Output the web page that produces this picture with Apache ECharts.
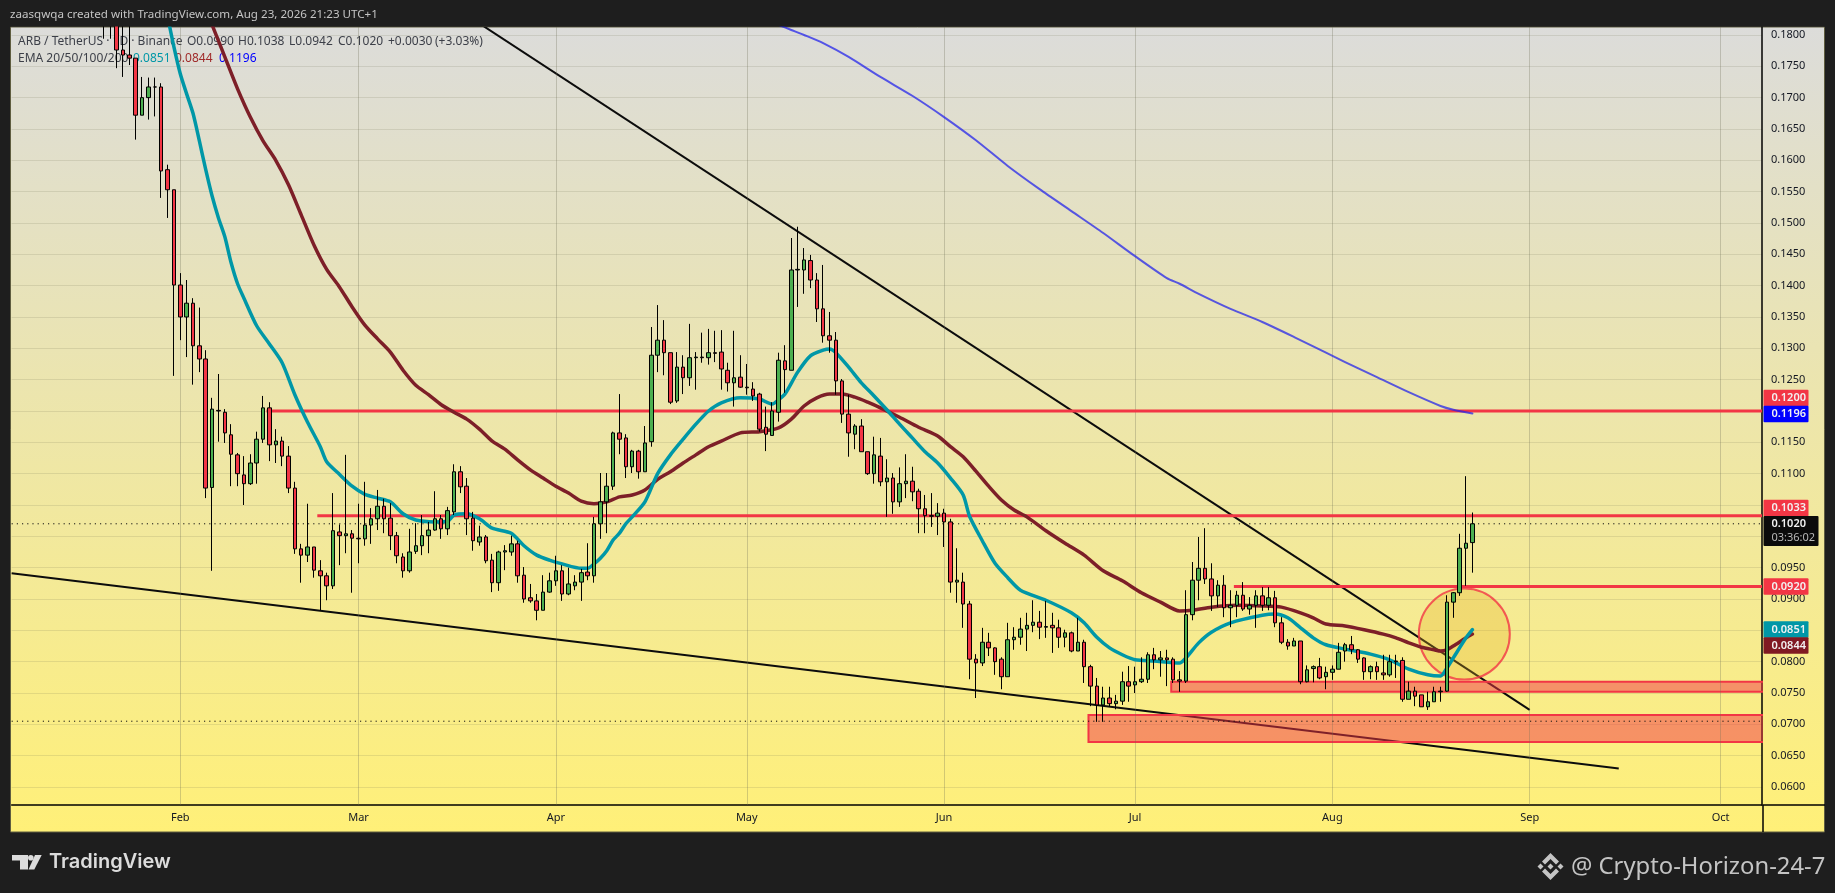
<!DOCTYPE html>
<html><head><meta charset="utf-8">
<style>html,body{margin:0;padding:0;background:#1e1e1e}#c{width:1835px;height:893px}</style>
<script src="https://cdn.jsdelivr.net/npm/echarts@6/dist/echarts.min.js"></script>
</head><body><div id="c"></div>
<script>
// Day numbers are offsets from 1 Feb 2026.
const firstDay = -26, lastDay = 248, firstCandleDay = -12;
const monthStarts = [[0,'Feb'],[28,'Mar'],[59,'Apr'],[89,'May'],[120,'Jun'],[150,'Jul'],[181,'Aug'],[212,'Sep'],[242,'Oct']];
const priceTicks = [.06,.065,.07,.075,.08,.085,.09,.095,.1,.105,.11,.115,.12,.125,.13,.135,.14,.145,.15,.155,.16,.165,.17,.175,.18];
// [open, close, low, high]
const candles = [
[.195,.19,.1794,.198],[.19,.187,.1794,.195],[.185,.1776,.1747,.19],[.1776,.1768,.1733,.182],[.1768,.1763,.1752,.182],
[.1763,.1672,.1633,.1763],[.1672,.17,.1672,.1733],[.17,.1717,.1665,.1732],[.1717,.1717,.167,.1732],[.1717,.1583,.154,.1723],
[.1585,.1553,.1508,.1593],[.1553,.1401,.1256,.1553],[.1401,.135,.1313,.142],[.135,.1372,.1286,.1409],[.1372,.1304,.1242,.138],
[.1304,.1283,.1262,.1365],[.1283,.1077,.1061,.1297],[.1078,.1203,.0945,.1221],[.1201,.12,.1151,.1259],[.1198,.1165,.1149,.1203],
[.1162,.1131,.108,.1179],[.113,.11,.108,.1133],[.1098,.1084,.105,.1128],[.1084,.1117,.1082,.1131],[.1117,.1155,.1084,.1167],
[.1155,.1205,.1149,.1224],[.1205,.1146,.112,.1214],[.1146,.1152,.1117,.1171],[.1152,.1128,.1112,.1159],[.1128,.1077,.1069,.1144],
[.1077,.098,.0972,.1087],[.098,.097,.0926,.0988],[.097,.0983,.0959,.1052],[.0983,.0946,.0934,.0983],[.0945,.0937,.0882,.0962],
[.0937,.0921,.0898,.0942],[.0921,.1009,.0916,.1069],[.1007,.1001,.0954,.1019],[.1001,.1004,.0973,.113],[.1004,.0997,.091,.101],
[.0997,.0996,.0957,.1052],[.0996,.1018,.0985,.1087],[.1018,.1028,.0988,.1045],[.1028,.1048,.101,.1074],[.1048,.1028,.1005,.106],
[.1029,.1001,.0978,.1053],[.1001,.0969,.0957,.1007],[.0967,.0945,.0934,.0973],[.0945,.0975,.0942,.1012],[.0976,.0985,.0972,.1021],
[.0985,.1001,.097,.1034],[.1001,.101,.0973,.1023],[.101,.1028,.1009,.1072],[.1028,.1012,.0996,.1034],[.1012,.1041,.1002,.1047],
[.1039,.1103,.1034,.1115],[.1103,.1079,.1069,.1112],[.108,.1028,.1002,.1093],[.1029,.0993,.0977,.1039],[.0991,.0999,.0985,.1017],
[.0999,.0961,.0957,.1002],[.0962,.0926,.0911,.0972],[.0926,.0975,.0913,.0977],[.0975,.0977,.0946,.0986],[.0975,.0988,.0969,.1001],
[.0988,.0937,.0926,.0993],[.0938,.09,.0894,.0951],[.0902,.0897,.0894,.0924],[.0897,.0882,.0866,.0908],[.0882,.0911,.0882,.0938],
[.0911,.0929,.091,.0942],[.0929,.0945,.0921,.0969],[.0945,.0908,.0897,.0954],[.0908,.0924,.0906,.095],[.0921,.0927,.0914,.0938],
[.0927,.0942,.0897,.0948],[.0943,.0937,.093,.0989],[.0937,.102,.0926,.1031],[.102,.1055,.0996,.1101],[.1055,.108,.1005,.1101],
[.108,.1165,.1074,.1167],[.1165,.1155,.1131,.1227],[.1157,.1111,.1093,.1163],[.1111,.1136,.1101,.1138],[.1136,.1103,.1092,.1138],
[.1103,.1149,.1103,.1176],[.1151,.1289,.1143,.1334],[.1289,.1313,.1262,.1369],[.1313,.1293,.1257,.1345],[.1293,.1214,.1211,.1293],
[.1216,.127,.1213,.1294],[.127,.1253,.1227,.1289],[.1253,.1285,.124,.1339],[.1285,.1286,.1234,.1294],[.1286,.1285,.1277,.1325],
[.1285,.1293,.1274,.1331],[.1293,.1292,.1278,.1328],[.1294,.1267,.1234,.1329],[.1265,.1245,.1231,.1277],[.1245,.1253,.1207,.1328],
[.1254,.1238,.1237,.1289],[.1238,.1237,.1226,.1275],[.1235,.1224,.1216,.1246],[.1227,.1171,.1167,.1229],[.1174,.1163,.1136,.1207],
[.1161,.12,.1161,.1214],[.1198,.1281,.1183,.1293],[.128,.1266,.1229,.1305],[.1265,.1425,.1265,.1476],[.1425,.1426,.1366,.1494],
[.1425,.1441,.1387,.146],[.144,.1409,.1396,.1449],[.1409,.1363,.1342,.142],[.1363,.132,.1309,.1433],[.132,.1313,.1293,.1358],
[.1313,.1248,.1226,.1326],[.1248,.1195,.1181,.1251],[.1195,.1165,.1127,.1226],[.1163,.1176,.1139,.1179],[.1176,.1135,.1135,.1187],
[.1135,.11,.1098,.1135],[.11,.113,.1084,.1159],[.1128,.1087,.108,.1157],[.1087,.1093,.1031,.1123],[.1093,.1055,.1036,.1101],
[.1055,.1084,.1047,.111],[.1084,.1088,.1061,.1131],[.1088,.1071,.1056,.1111],[.1072,.1044,.1005,.1076],[.1044,.1033,.1005,.1066],
[.1033,.1032,.1015,.1069],[.1032,.1037,.1002,.1053],[.1037,.1023,.0983,.1044],[.1023,.0927,.091,.1028],[.0927,.093,.0894,.0981],
[.0927,.0892,.0854,.0942],[.0892,.0804,.0772,.0897],[.0804,.0798,.0742,.0812],[.0798,.0831,.0793,.0854],[.0831,.0822,.0809,.0846],
[.0822,.08,.0779,.0823],[.0804,.0776,.0756,.0807],[.0776,.0835,.0776,.0862],[.0835,.0839,.0819,.0855],[.0839,.0852,.0827,.087],
[.0852,.0858,.0817,.0878],[.0858,.0863,.0847,.0898],[.0863,.0855,.0836,.0881],[.0855,.0856,.0838,.0897],[.0858,.0854,.0814,.0878],
[.0854,.0839,.0822,.0867],[.0839,.0846,.0823,.0851],[.0846,.0817,.0815,.0848],[.0817,.0831,.0817,.087],[.0831,.0792,.0766,.0835],
[.0792,.0761,.0729,.0795],[.0761,.0731,.0704,.0774],[.0731,.0742,.0704,.076],[.0742,.0733,.0728,.076],[.0733,.0737,.0724,.0747],
[.0737,.0768,.0731,.0784],[.0768,.0761,.0736,.0793],[.0763,.0768,.075,.0792],[.0768,.0772,.0766,.0807],[.0772,.0811,.0766,.0815],
[.0811,.0803,.0788,.0822],[.0803,.0806,.0776,.0817],[.0806,.0803,.0761,.0819],[.0804,.0771,.0766,.0807],[.0771,.0769,.0752,.0785],
[.0769,.0875,.0766,.0914],[.0875,.093,.0866,.0959],[.093,.0949,.0898,.0999],[.0949,.0932,.0924,.1013],[.0932,.0905,.0881,.0957],
[.0905,.0922,.0887,.093],[.0922,.0886,.0871,.0938],[.0886,.089,.0855,.0914],[.089,.0906,.0871,.0913],[.0906,.0884,.0881,.0927],
[.0884,.089,.0875,.0903],[.089,.0905,.0854,.0914],[.0905,.089,.0881,.0919],[.089,.0902,.0882,.0919],[.0902,.0862,.0855,.0913],
[.0862,.0831,.0828,.0871],[.0831,.0825,.0819,.0836],[.0825,.0833,.0825,.0838],[.0833,.0768,.0764,.0833],[.0768,.0787,.0767,.0794],
[.0789,.0792,.0767,.0794],[.0792,.0774,.0772,.0806],[.0776,.0783,.0756,.0792],[.0783,.0788,.0771,.0794],[.0788,.0815,.0788,.083],
[.0817,.0827,.08,.083],[.0827,.0819,.0812,.0841],[.0819,.0804,.0798,.082],[.0806,.0784,.0771,.0807],[.0784,.0792,.0772,.0794],
[.0792,.0784,.0771,.08],[.0782,.0779,.0771,.0811],[.0779,.08,.0776,.0811],[.08,.0801,.0774,.0811],[.0802,.074,.0736,.0807],
[.074,.0753,.074,.0768],[.0753,.0745,.0729,.076],[.0747,.0728,.0728,.0747],[.0728,.0736,.0723,.0752],[.0736,.0752,.0736,.076],
[.0752,.0753,.0736,.076],[.0753,.0895,.0752,.0906],[.0895,.091,.087,.0911],[.091,.0981,.0905,.1004],[.0981,.0989,.0921,.1096],
[.099,.102,.0942,.1038]];
// EMA readings: [day, price]
const ema20 = [[-2,.183],[-1,.1781],[0,.1738],[1,.1706],[2,.1675],[3,.1631],[4,.1585],[5,.1543],[6,.1508],[7,.1478],[8,.1436],[9,.1403],[10,.138],[12,.1336],[14,.1307],[16,.1277],[18,.1226],[20,.1182],[22,.1143],[23,.1119],[25,.1099],[27,.108],[29,.1067],[31,.1061],[33,.1055],[35,.1036],[37,.1026],[40,.1023],[42,.1024],[43,.1034],[45,.1036],[47,.1028],[49,.1013],[52,.1005],[54,.0985],[56,.097],[58,.0962],[60,.0956],[63,.0949],[64,.0949],[65,.0956],[66,.0965],[67,.0977],[68,.0994],[69,.1005],[70,.102],[71,.1031],[73,.1055],[75,.11],[77,.113],[79,.1155],[81,.1179],[83,.12],[85,.1213],[88,.1221],[91,.1219],[93,.1211],[94,.1218],[95,.1227],[97,.1262],[99,.1288],[101,.1297],[102,.1299],[103,.1293],[105,.127],[107,.1245],[109,.1224],[111,.1202],[113,.1179],[115,.1157],[117,.1135],[119,.1117],[121,.1093],[123,.1066],[124,.1032],[126,.0993],[128,.0957],[130,.0934],[132,.0914],[136,.0898],[140,.0878],[142,.0862],[144,.0839],[146,.0822],[148,.0811],[150,.0803],[153,.0801],[157,.0798],[158,.0806],[160,.083],[162,.0847],[165,.0862],[170,.0874],[172,.0876],[174,.087],[176,.0854],[178,.0838],[180,.0827],[183,.082],[187,.0812],[190,.0803],[193,.0788],[196,.0779],[198,.0777],[199,.079],[200,.0806],[202,.0838],[203,.0851]];
const ema50 = [[5,.1816],[7,.1765],[9,.1714],[11,.1669],[13,.1631],[15,.16],[17,.1561],[19,.1513],[21,.1465],[23,.1426],[25,.1398],[27,.1366],[29,.1337],[31,.1315],[33,.1294],[35,.1265],[37,.1241],[39,.1226],[41,.121],[43,.1198],[45,.1187],[47,.1171],[49,.1152],[51,.1139],[53,.1122],[55,.1106],[57,.1093],[59,.108],[61,.1069],[63,.1056],[65,.1052],[67,.1055],[69,.1063],[71,.1066],[73,.1074],[75,.1091],[77,.1103],[79,.1117],[81,.113],[83,.1143],[85,.1152],[88,.1165],[91,.1167],[94,.1173],[96,.1187],[98,.1208],[100,.1221],[102,.1227],[104,.1227],[106,.1222],[108,.1214],[110,.1205],[113,.119],[116,.1174],[119,.116],[121,.1143],[123,.1127],[125,.1104],[127,.108],[129,.1058],[131,.1042],[133,.1031],[136,.1009],[139,.0989],[142,.097],[145,.0945],[148,.0929],[151,.091],[154,.0895],[157,.0881],[159,.0882],[162,.0887],[166,.089],[170,.0889],[173,.0887],[176,.0878],[178,.087],[180,.086],[183,.0857],[186,.0851],[189,.0844],[191,.0838],[193,.083],[195,.0823],[197,.0819],[198,.0817],[199,.0819],[200,.0825],[202,.0838],[203,.0844]];
const ema200 = [[94,.1816],[96,.1808],[98,.18],[101,.1787],[105,.1765],[110,.1733],[115,.1703],[120,.1669],[125,.1632],[130,.1591],[135,.1554],[140,.1519],[145,.1484],[150,.1447],[155,.1412],[157,.1403],[160,.1387],[165,.1363],[170,.1342],[175,.1318],[180,.1293],[183,.1278],[188,.1254],[193,.123],[198,.1208],[200,.1202],[203,.1196]];
// Drawings
const trendLines = [[46,.1825,212,.0723],[-26,.09405,226,.06295]];
const levelLines = [[14,.12],[22,.1033],[166,.092]];
const dottedLevels = [.102,.0705];
const zones = [[156,.0768,.0752],[143,.0715,.0672]];
const circleCentre = [202,.0844];
// Price tags: anchor price, text, sub text, colour
const tagAnchors = [.12207,.11952,.10452,.10085,.092,.08513,.08258];
const tagTexts = ['0.1200','0.1196','0.1033','0.1020','0.0920','0.0851','0.0844'];
const tagSubs = ['','','','03:36:02','','',''];
const tagColors = ['#f23645','#0000ff','#f23645','#0b0b0b','#f23645','#0097a7','#801922'];

const FONT = '"Noto Sans"';
const dayIdx = d => d - firstDay;
const dates = [];
for (let d = firstDay; d <= lastDay; d++) dates.push(new Date(Date.UTC(2026,1,1+d)).toISOString().slice(0,10));
const labelByIdx = {};
monthStarts.forEach(([d,n]) => labelByIdx[dayIdx(d)] = n);
const candleData = dates.map((_,i) => candles[i - dayIdx(firstCandleDay)] || '-');
const toLine = arr => arr.map(([d,v]) => [dayIdx(d), v]);

function txt(x,y,text,fill,font,z){
  return {type:'text', z:z||1, silent:true, style:{x,y,text,fill,font,textVerticalAlign:'middle'}};
}
function poly(points,z){ return {type:'polygon', z:z||1, silent:true, shape:{points}, style:{fill:'#c4c4c4'}}; }
function lineSeries(data, color, width, z){
  return {type:'line', data:toLine(data), showSymbol:false, smooth:0.25, z, silent:true, clip:true,
    lineStyle:{color, width, cap:'round', join:'round'}};
}
function hSeries(rows, style, z){
  return {type:'custom', z, silent:true, clip:true, data:rows,
    renderItem(p, api){
      const cs=p.coordSys, s=api.value(0), v=api.value(1), pt=api.coord([s,v]);
      const x1 = s===0 ? cs.x : pt[0]-3;
      return {type:'line', shape:{x1, y1:pt[1], x2:cs.x+cs.width, y2:pt[1]}, style};
    }};
}
const option = {
  animation:false,
  backgroundColor:'#1e1e1e',
  grid:{left:11.6, right:73, top:27, height:778, containLabel:false},
  xAxis:{type:'category', data:dates, boundaryGap:true,
    axisLine:{show:true, lineStyle:{color:'#000', width:1.5}},
    axisTick:{show:false}, splitLine:{show:false},
    axisLabel:{interval:(i)=>labelByIdx[i]!==undefined, formatter:(v,i)=>labelByIdx[i]||'', margin:7,
      color:'#131722', fontFamily:FONT, fontSize:11, hideOverlap:false}},
  yAxis:{type:'value', position:'right', min:.05713, max:.18127, scale:true,
    axisLine:{show:true, onZero:false, lineStyle:{color:'#000', width:1.5}},
    axisTick:{show:false, customValues:priceTicks},
    splitLine:{show:true, lineStyle:{color:'rgba(110,110,85,0.17)', width:1}},
    axisLabel:{customValues:priceTicks, formatter:v=>v.toFixed(4), margin:9, color:'#131722', fontFamily:FONT, fontSize:11}},
  graphic:{elements:[
    {type:'rect', z:-10, silent:true, shape:{x:10.5,y:27,width:1814,height:805},
      style:{fill:{type:'linear',x:0,y:0,x2:0,y2:1,colorStops:[{offset:0,color:'#dcdcda'},{offset:1,color:'#fff078'}]}, stroke:'#5f5d40', lineWidth:1}},
    {type:'line', z:1, silent:true, shape:{x1:1763,y1:805,x2:1825,y2:805}, style:{stroke:'#000',lineWidth:1.5}},
    {type:'line', z:1, silent:true, shape:{x1:1763,y1:805,x2:1763,y2:832}, style:{stroke:'#000',lineWidth:1.5}},
    {type:'rect', z:50, silent:true, shape:{x:0,y:0,width:1835,height:26.5}, style:{fill:'#1e1e1e'}},
    txt(10,15,'zaasqwqa created with TradingView.com, Aug 23, 2026 21:23 UTC+1','#c4c4c4','11.6px '+FONT,51),
    txt(18,42,'ARB / TetherUS · 1D · Binance','#3c3f48','12px '+FONT),
    txt(187,42,'O0.0990','#3c3f48','12px '+FONT), txt(238,42,'H0.1038','#3c3f48','12px '+FONT),
    txt(289,42,'L0.0942','#3c3f48','12px '+FONT), txt(338,42,'C0.1020','#3c3f48','12px '+FONT),
    txt(388,42,'+0.0030','#3c3f48','12px '+FONT), txt(435,42,'(+3.03%)','#3c3f48','12px '+FONT),
    txt(18,59,'EMA 20/50/100/200','#3c3f48','12px '+FONT),
    txt(133,59,'0.0851','#0097a7','12px '+FONT), txt(175,59,'0.0844','#a02a2a','12px '+FONT), txt(219,59,'0.1196','#0000ff','12px '+FONT),
    // TradingView logo
    {type:'polygon', z:1, silent:true, shape:{points:[[12,855],[28,855],[28,869.5],[20,869.5],[20,860.5],[12,860.5]]}, style:{fill:'#dcdcdc'}},
    {type:'circle', z:1, silent:true, shape:{cx:30.8,cy:857.8,r:2.8}, style:{fill:'#dcdcdc'}},
    {type:'polygon', z:1, silent:true, shape:{points:[[35,855],[41.7,855],[34.3,869.5],[28.5,869.5]]}, style:{fill:'#dcdcdc'}},
    txt(49,862,'TradingView','#dcdcdc','600 20px Inter'),
    // Author mark
    poly([[1550.5,853],[1559,861.5],[1556,864.5],[1550.5,859],[1545,864.5],[1542,861.5]]),
    poly([[1550.5,880],[1559,871.5],[1556,868.5],[1550.5,874],[1545,868.5],[1542,871.5]]),
    poly([[1540.5,863.5],[1543.5,866.5],[1540.5,869.5],[1537.5,866.5]]),
    poly([[1560.5,863.5],[1563.5,866.5],[1560.5,869.5],[1557.5,866.5]]),
    poly([[1550.5,863.5],[1553.5,866.5],[1550.5,869.5],[1547.5,866.5]]),
    txt(1571,867,'@ Crypto-Horizon-24-7','#c4c4c4','23.8px '+FONT)
  ]},
  series:[
    {type:'line', data:[], z:1, silent:true, markLine:{silent:true, symbol:'none', animation:false, label:{show:false},
       lineStyle:{color:'rgba(110,110,85,0.3)', width:1, type:'solid'},
       data:monthStarts.map(([d])=>({xAxis:dates[dayIdx(d)]}))}},
    {type:'custom', z:3, silent:true, clip:true, data:trendLines.map(([a,v,b,w])=>[dayIdx(a),v,dayIdx(b),w]),
      encode:{x:[0,2],y:[1,3]},
      renderItem(p, api){
        const cs=p.coordSys, a=api.coord([api.value(0),api.value(1)]), b=api.coord([api.value(2),api.value(3)]);
        const k=(b[1]-a[1])/(b[0]-a[0]);
        if (api.value(0)===0) { a[1]+= (cs.x-a[0])*k; a[0]=cs.x; }
        return {type:'line', shape:{x1:a[0],y1:a[1],x2:b[0],y2:b[1]}, style:{stroke:'#0c0c0c', lineWidth:2}};
      }},
    {type:'custom', z:4, silent:true, clip:true, data:zones.map(([s,a,b])=>[dayIdx(s),a,b]), encode:{x:0,y:[1,2]},
      renderItem(p, api){
        const cs=p.coordSys, a=api.coord([api.value(0),api.value(1)]), b=api.coord([api.value(0),api.value(2)]);
        return {type:'rect', shape:{x:a[0]-2,y:a[1],width:cs.x+cs.width-a[0]+4,height:b[1]-a[1]},
          style:{fill:'rgba(242,54,69,0.5)', stroke:'#f23645', lineWidth:2}};
      }},
    {type:'scatter', z:4, silent:true, data:[[dayIdx(circleCentre[0]),circleCentre[1]]], symbol:'circle', symbolSize:91, symbolOffset:[-1.7,0],
      itemStyle:{color:'rgba(230,180,40,0.3)', borderColor:'rgba(242,54,69,0.8)', borderWidth:2, opacity:1}},
    hSeries(levelLines.map(([d,v])=>[dayIdx(d),v]), {stroke:'#f23645', lineWidth:3}, 5),
    hSeries(dottedLevels.map(v=>[0,v]), {stroke:'#111', lineWidth:1, lineDash:[1.2,4]}, 5),
    lineSeries(ema200,'rgba(30,30,235,0.72)',2,6),
    lineSeries(ema50,'#7d1f28',3.5,6),
    lineSeries(ema20,'#0097a7',3.5,6.5),
    {type:'candlestick', z:7, silent:true, clip:true, data:candleData, barWidth:4,
      itemStyle:{color:'#4caf50', color0:'#f23645', borderColor:'#000', borderColor0:'#000', borderColorDoji:'#000', borderWidth:1}},
    {type:'custom', z:8, silent:true, clip:false, data:tagAnchors.map(v=>[0,v]),
      renderItem(p, api){
        const i=p.dataIndex, cs=p.coordSys, x=cs.x+cs.width+1.5, y=api.coord([0,api.value(1)])[1];
        const sub=tagSubs[i], h=sub?30:16.5, w=sub?55:45;
        const kids=[{type:'rect', shape:{x,y:y-h/2,width:w,height:h,r:1}, style:{fill:tagColors[i]}},
          {type:'text', style:{x:x+8, y:sub?y-7:y, text:tagTexts[i], fill:'#f2f2f2', font:'600 11px '+FONT, textVerticalAlign:'middle'}}];
        if (sub) kids.push({type:'text', style:{x:x+8,y:y+7,text:sub,fill:'#b8b8b8',font:'11px '+FONT,textVerticalAlign:'middle'}});
        return {type:'group', children:kids};
      }}
  ]
};
echarts.init(document.getElementById('c'),null,{renderer:'canvas'}).setOption(option);
</script></body></html>
